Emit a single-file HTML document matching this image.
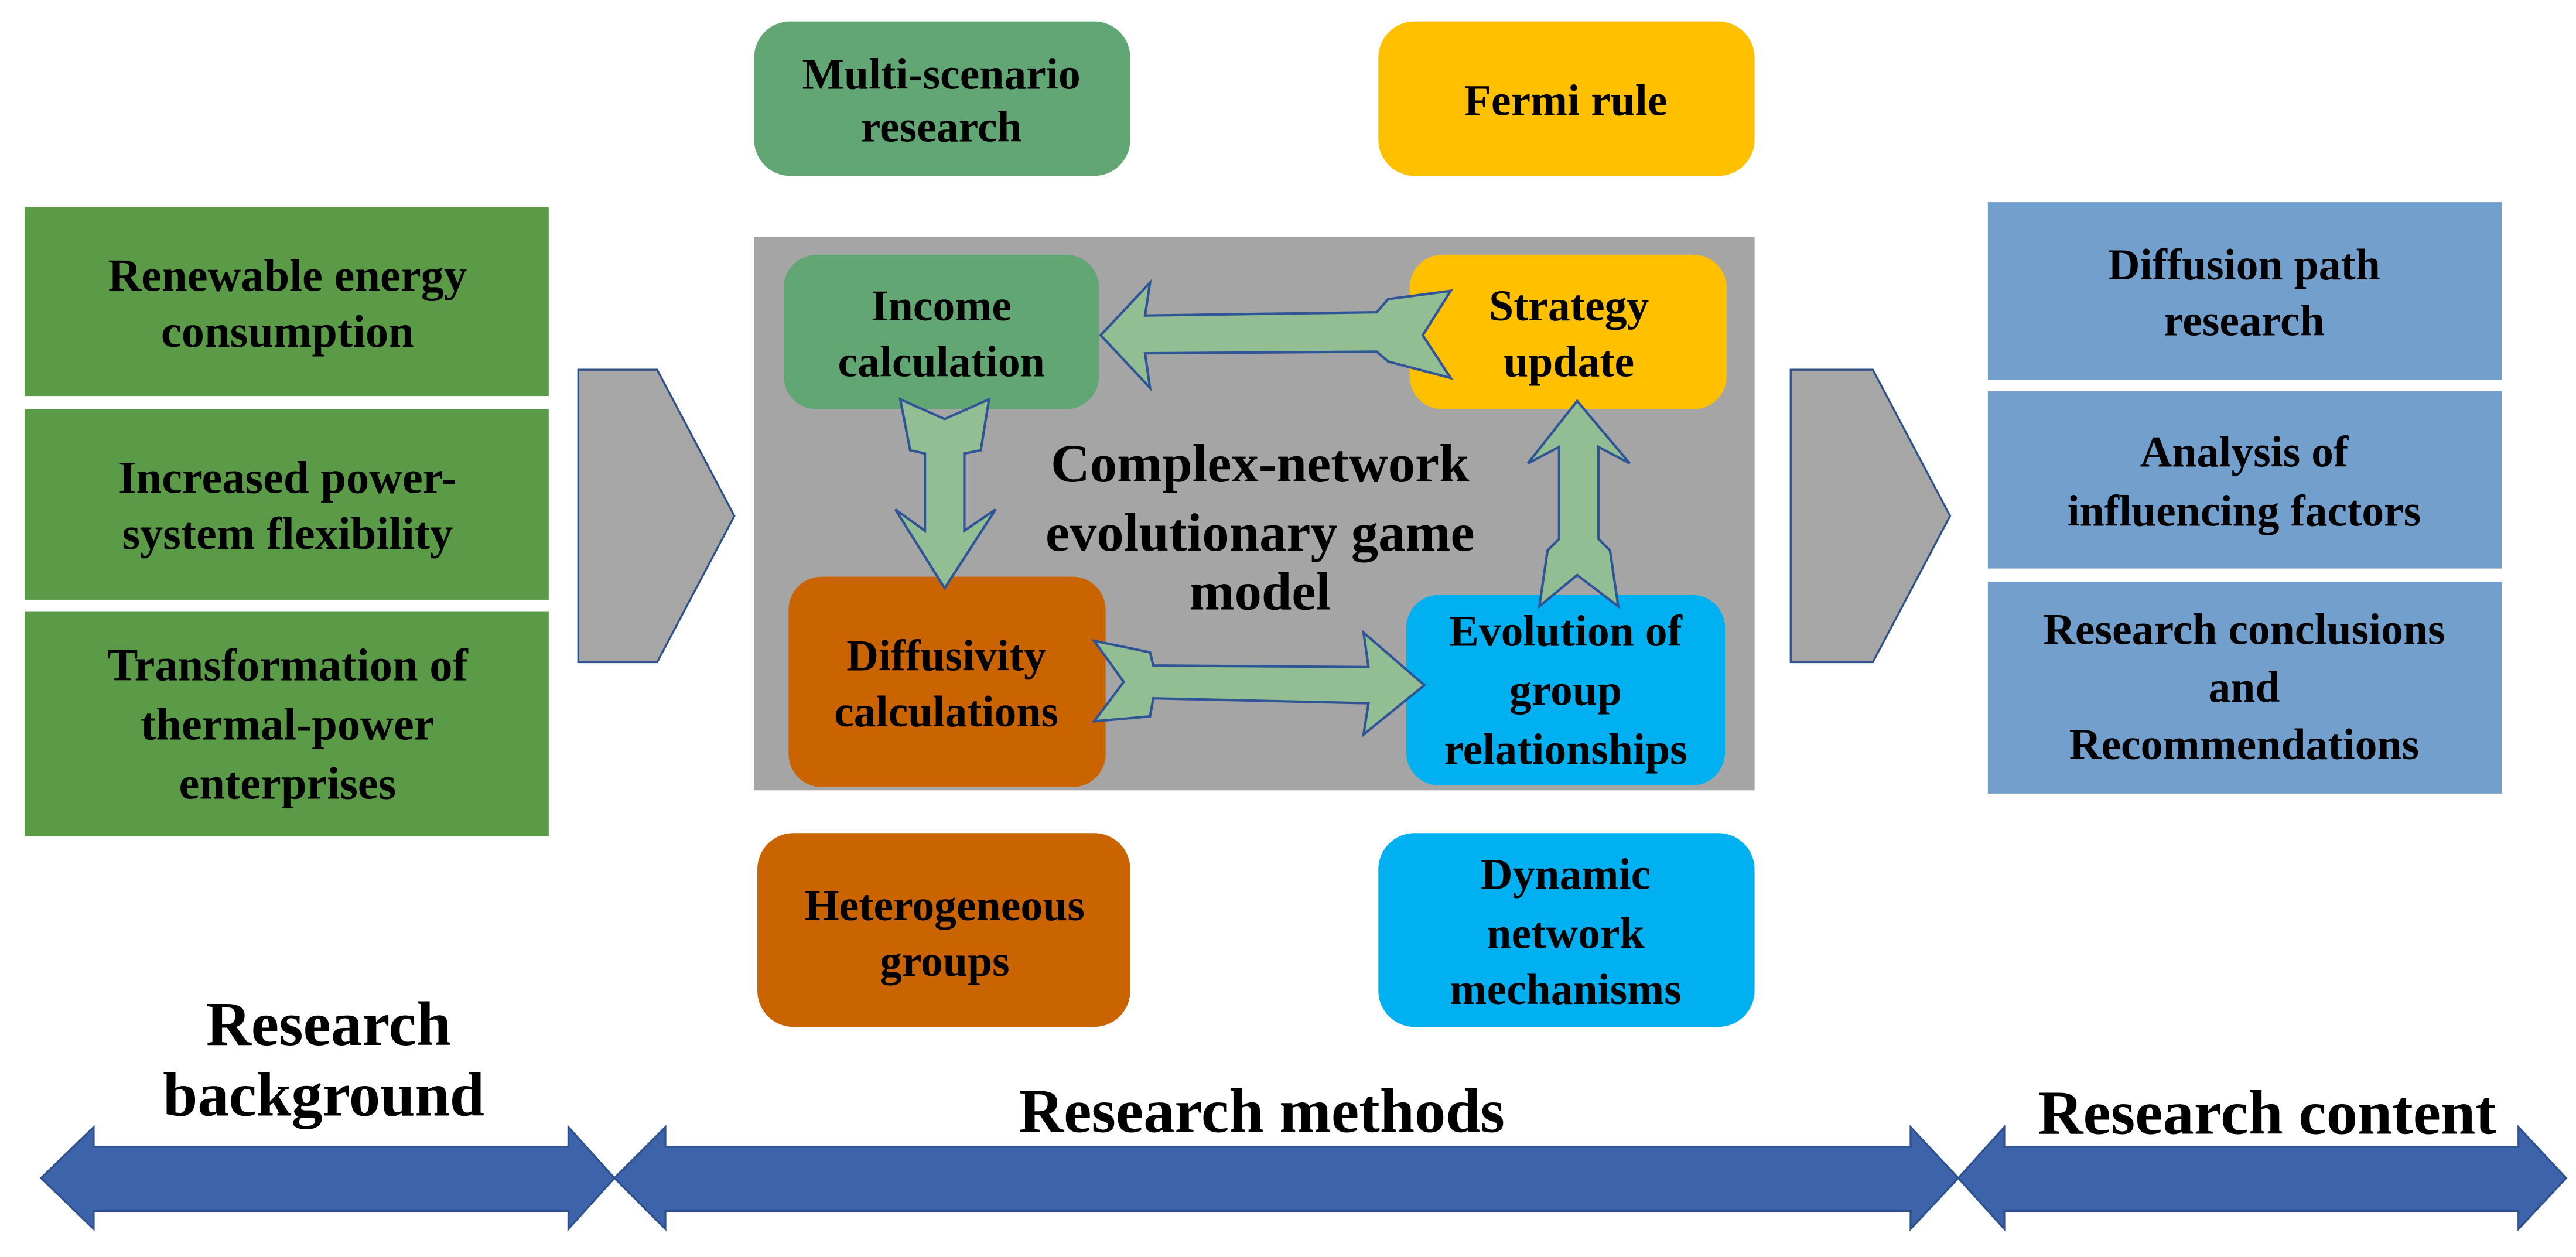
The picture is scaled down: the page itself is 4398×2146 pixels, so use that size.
<!DOCTYPE html>
<html><head><meta charset="utf-8"><style>html,body{margin:0;padding:0;background:#fff}svg{display:block}</style></head>
<body>
<svg width="4398" height="2146" viewBox="0 0 1568 765" xmlns="http://www.w3.org/2000/svg" font-family="'Liberation Serif', serif" font-weight="bold" text-anchor="middle">
<rect width="1568" height="765" fill="#fff"/>
<rect x="15" y="126" width="319" height="115" fill="#5b9a47"/>
<rect x="15" y="249" width="319" height="116" fill="#5b9a47"/>
<rect x="15" y="372" width="319" height="137" fill="#5b9a47"/>
<g font-size="28" fill="#000">
<text x="175" y="177">Renewable energy</text><text x="175" y="211">consumption</text>
<text x="175" y="300">Increased power-</text><text x="175" y="334">system flexibility</text>
<text x="175" y="414">Transformation of</text><text x="175" y="450">thermal-power</text><text x="175" y="486">enterprises</text>
</g>
<polygon points="352,225 400,225 447,314 400,403 352,403" fill="#a6a6a6" stroke="#2f528f" stroke-width="1.2"/>
<polygon points="1090,225 1140,225 1187,314 1140,403 1090,403" fill="#a6a6a6" stroke="#2f528f" stroke-width="1.2"/>
<rect x="459" y="144" width="609" height="337" fill="#a5a5a5"/>
<rect x="459" y="13" width="229" height="94" rx="22" fill="#62a675"/>
<rect x="839" y="13" width="229" height="94" rx="22" fill="#ffc000"/>
<rect x="461" y="507" width="227" height="118" rx="22" fill="#c96400"/>
<rect x="839" y="507" width="229" height="118" rx="22" fill="#00b0f0"/>
<rect x="477" y="155" width="192" height="94" rx="20" fill="#62a673"/>
<rect x="858" y="155" width="193" height="94" rx="20" fill="#ffc000"/>
<rect x="480" y="351" width="193" height="128" rx="20" fill="#c96400"/>
<rect x="856" y="362" width="194" height="116" rx="20" fill="#00b0f0"/>
<rect x="1210" y="123" width="313" height="108" fill="#739fcd"/>
<rect x="1210" y="238" width="313" height="108" fill="#739fcd"/>
<rect x="1210" y="354" width="313" height="129" fill="#739fcd"/>
<g fill="#93bd93" stroke="#2f5597" stroke-width="1.5" stroke-linejoin="miter">
<polygon points="670,204 700,172 697,192 838,190 845,182 883,177 866,204 883,230 845,220 838,214 697,215 700,236"/>
<polygon points="548,243 575,255 602,243 597,274 587,276 587,323 606,310 575,358 545,310 563,323 563,276 554,274"/>
<polygon points="867,417 830,447 833,428 702,425 700,436 666,439 684,415 666,390 700,397 702,405 833,406 830,385"/>
<polygon points="960,244 992,282 973,272 973,328 980,335 985,369 960,350 937,369 942,335 949,328 949,272 930,282"/>
</g>
<g font-size="27" fill="#000">
<text x="573" y="54">Multi-scenario</text><text x="573" y="86">research</text>
<text x="953" y="70">Fermi rule</text>
<text x="573" y="195">Income</text><text x="573" y="229">calculation</text>
<text x="955" y="195">Strategy</text><text x="955" y="229">update</text>
<text x="576" y="408">Diffusivity</text><text x="576" y="442">calculations</text>
<text x="953" y="393">Evolution of</text><text x="953" y="429">group</text><text x="953" y="465">relationships</text>
<text x="575" y="560">Heterogeneous</text><text x="575" y="594">groups</text>
<text x="953" y="541">Dynamic</text><text x="953" y="577">network</text><text x="953" y="611">mechanisms</text>
<text x="1366" y="170">Diffusion path</text><text x="1366" y="204">research</text>
<text x="1366" y="284">Analysis of</text><text x="1366" y="320">influencing factors</text>
<text x="1366" y="392">Research conclusions</text><text x="1366" y="427">and</text><text x="1366" y="462">Recommendations</text>
</g>
<g font-size="33" fill="#000">
<text x="767" y="293">Complex-network</text><text x="767" y="335">evolutionary game</text><text x="767" y="371">model</text>
</g>
<g font-size="38" fill="#000">
<text x="200" y="636">Research</text><text x="197" y="679">background</text>
<text x="768" y="689">Research methods</text>
<text x="1380" y="690">Research content</text>
</g>
<g fill="#3d63ab" stroke="#2f528f" stroke-width="1.2">
<polygon points="25,717 57,686 57,698 346,698 346,686 374,717 346,748 346,737 57,737 57,748"/>
<polygon points="374,717 405,686 405,698 1163,698 1163,686 1192,717 1163,748 1163,737 405,737 405,748"/>
<polygon points="1192,717 1220,686 1220,698 1533,698 1533,686 1562,717 1533,748 1533,737 1220,737 1220,748"/>
</g>
</svg>
</body></html>
